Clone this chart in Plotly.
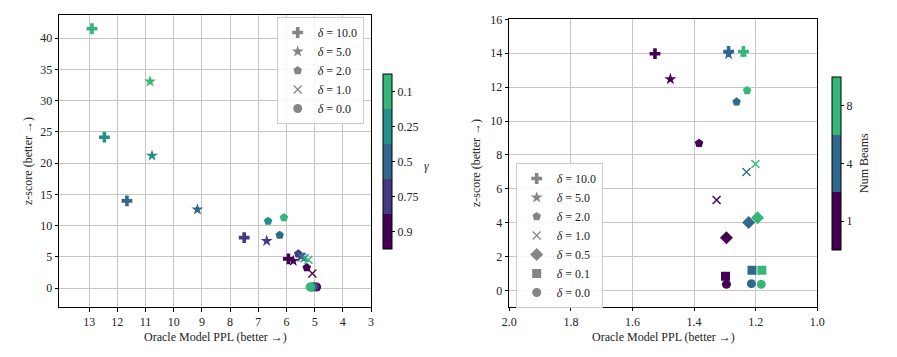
import plotly.graph_objects as go

W, H = 897, 357

# ---------------- Left panel data (gamma sweep) ----------------
gamma_labels = ["0.1", "0.25", "0.5", "0.75", "0.9"]
gamma_levels = [4, 3, 2, 1, 0]  # position in the discrete colour scale

left_deltas = ["10.0", "5.0", "2.0", "1.0", "0.0"]
left_ppl = {
    "10.0": [12.90, 12.46, 11.66, 7.50, 5.93],
    "5.0": [10.84, 10.77, 9.16, 6.70, 5.76],
    "2.0": [6.09, 6.65, 6.24, 5.58, 5.28],
    "1.0": [5.22, 5.36, 5.46, 5.50, 5.08],
    "0.0": [5.16, 5.12, 5.08, 5.00, 4.93],
}
left_z = {
    "10.0": [41.5, 24.16, 13.97, 8.10, 4.69],
    "5.0": [33.07, 21.2, 12.59, 7.57, 4.37],
    "2.0": [11.3, 10.72, 8.48, 5.50, 3.30],
    "1.0": [4.55, 4.80, 4.95, 5.05, 2.35],
    "0.0": [0.2, 0.2, 0.2, 0.25, 0.2],
}

# ---------------- Right panel data (beam sweep) ----------------
beam_labels = ["1", "4", "8"]
beam_levels = [0, 1, 2]

right_deltas = ["10.0", "5.0", "2.0", "1.0", "0.5", "0.1", "0.0"]
right_ppl = {
    "10.0": [1.527, 1.288, 1.240],
    "5.0": [1.477, 1.288, 1.240],
    "2.0": [1.384, 1.262, 1.228],
    "1.0": [1.327, 1.230, 1.201],
    "0.5": [1.295, 1.223, 1.194],
    "0.1": [1.298, 1.212, 1.180],
    "0.0": [1.295, 1.214, 1.182],
}
right_z = {
    "10.0": [13.97, 14.10, 14.10],
    "5.0": [12.47, 13.95, 14.05],
    "2.0": [8.69, 11.13, 11.80],
    "1.0": [5.34, 7.00, 7.47],
    "0.5": [3.11, 4.02, 4.30],
    "0.1": [0.85, 1.20, 1.20],
    "0.0": [0.37, 0.41, 0.37],
}

symbols = {
    "10.0": "cross", "5.0": "star", "2.0": "pentagon", "1.0": "x-thin-open",
    "0.5": "diamond", "0.1": "square", "0.0": "circle",
}
sizes = {
    "10.0": 9, "5.0": 9, "2.0": 9, "1.0": 8,
    "0.5": 10, "0.1": 9, "0.0": 9,
}

viridis5 = ["#440154", "#443983", "#31688e", "#21918c", "#35b779"]
viridis3 = ["#440154", "#31688e", "#35b779"]


def discrete_scale(colors):
    n = len(colors)
    scale = []
    for i, c in enumerate(colors):
        scale.append([i / n, c])
        scale.append([(i + 1) / n, c])
    return scale


FONT = "Liberation Serif"
fig = go.Figure()


def add_series(deltas, ppl, z, levels, xa, ya, cax):
    # draw from dark to light so the light markers sit on top
    order = sorted(range(len(levels)), key=lambda i: levels[i])
    for d in deltas:
        xs = [ppl[d][i] for i in order]
        ys = [z[d][i] for i in order]
        cs = [levels[i] for i in order]
        sym = symbols[d]
        if sym == "x-thin-open":
            marker = dict(symbol=sym, size=sizes[d], color=cs, coloraxis=cax,
                          line=dict(width=1.4))
        else:
            marker = dict(symbol=sym, size=sizes[d], color=cs, coloraxis=cax,
                          line=dict(width=0))
        fig.add_trace(go.Scatter(x=xs, y=ys, mode="markers", marker=marker,
                                 xaxis=xa, yaxis=ya, showlegend=False,
                                 hoverinfo="skip"))


add_series(left_deltas, left_ppl, left_z, gamma_levels, "x", "y", "coloraxis")
add_series(right_deltas, right_ppl, right_z, beam_levels, "x2", "y2", "coloraxis2")

GRAY = "#858585"


def legend_entries(deltas, legend_name, xa, ya):
    for d in deltas:
        sym = symbols[d]
        if sym == "x-thin-open":
            marker = dict(symbol=sym, size=sizes[d], color=GRAY, line=dict(width=1.2))
        else:
            marker = dict(symbol=sym, size=sizes[d], color=GRAY, line=dict(width=0))
        fig.add_trace(go.Scatter(x=[None], y=[None], mode="markers", marker=marker,
                                 name="<i>δ</i> = " + d, legend=legend_name,
                                 xaxis=xa, yaxis=ya, showlegend=True))


legend_entries(left_deltas, "legend", "x", "y")
legend_entries(right_deltas, "legend2", "x2", "y2")

axis_common = dict(
    showline=True, mirror=True, linecolor="black", linewidth=1.2,
    ticks="outside", ticklen=3.5, tickcolor="black", tickwidth=1,
    showgrid=True, gridcolor="#c6c6c6", gridwidth=1.2, zeroline=False,
    tickfont=dict(family=FONT, size=12, color="#222"),
    automargin=False,
)

fig.update_layout(
    width=W, height=H,
    margin=dict(l=0, r=0, t=0, b=0),
    paper_bgcolor="white", plot_bgcolor="white",
    font=dict(family=FONT, size=12, color="#222"),
    xaxis=dict(domain=[59.3 / W, 371 / W], range=[14.06, 3],
               tickvals=list(range(3, 14)), **axis_common),
    yaxis=dict(domain=[1 - 307 / H, 1 - 15 / H], range=[-3.0, 43.7],
               tickvals=list(range(0, 45, 5)), **axis_common),
    xaxis2=dict(domain=[509.3 / W, 817.3 / W], range=[2.0, 1.0],
                tickvals=[2.0, 1.8, 1.6, 1.4, 1.2, 1.0], tickformat=".1f",
                anchor="y2", **axis_common),
    yaxis2=dict(domain=[1 - 306.7 / H, 1 - 19.3 / H], range=[-0.95, 16],
                tickvals=list(range(0, 17, 2)), anchor="x2", **axis_common),
    coloraxis=dict(
        colorscale=discrete_scale(viridis5), cmin=-0.5, cmax=4.5,
        colorbar=dict(
            x=382.7 / W, xanchor="left", xpad=0,
            y=1 - 161.5 / H, yanchor="middle", ypad=0,
            len=175 / H, lenmode="fraction", thickness=9,
            outlinewidth=1, outlinecolor="black",
            ticks="outside", ticklen=3, tickcolor="black",
            tickvals=gamma_levels, ticktext=gamma_labels,
            tickfont=dict(family=FONT, size=12, color="#222"),
        ),
    ),
    coloraxis2=dict(
        colorscale=discrete_scale(viridis3), cmin=-0.5, cmax=2.5,
        colorbar=dict(
            x=832.3 / W, xanchor="left", xpad=0,
            y=1 - 163.6 / H, yanchor="middle", ypad=0,
            len=172.7 / H, lenmode="fraction", thickness=9,
            outlinewidth=1, outlinecolor="black",
            ticks="outside", ticklen=3, tickcolor="black",
            tickvals=beam_levels, ticktext=beam_labels,
            tickfont=dict(family=FONT, size=12, color="#222"),
        ),
    ),
    legend=dict(
        x=276.7 / W, y=1 - 17 / H, xanchor="left", yanchor="top",
        bordercolor="#cccccc", borderwidth=1, bgcolor="rgba(255,255,255,0.85)",
        font=dict(family=FONT, size=12, color="#222"), tracegroupgap=0,
        itemsizing="trace",
    ),
    legend2=dict(
        x=515.7 / W, y=1 - 163 / H, xanchor="left", yanchor="top",
        bordercolor="#cccccc", borderwidth=1, bgcolor="rgba(255,255,255,0.85)",
        font=dict(family=FONT, size=12, color="#222"), tracegroupgap=0,
        itemsizing="trace",
    ),
)

annotations = [
    dict(text="Oracle Model PPL (better →)", x=215 / W, y=1 - 337 / H),
    dict(text="Oracle Model PPL (better →)", x=663 / W, y=1 - 337 / H),
    dict(text="z-score (better →)", x=28 / W, y=1 - 161 / H, textangle=-90),
    dict(text="z-score (better →)", x=476 / W, y=1 - 163 / H, textangle=-90),
    dict(text="<i>γ</i>", x=426 / W, y=1 - 166 / H),
    dict(text="Num Beams", x=864 / W, y=1 - 163 / H, textangle=-90),
]
for a in annotations:
    fig.add_annotation(xref="paper", yref="paper", showarrow=False,
                       xanchor="center", yanchor="middle",
                       font=dict(family=FONT, size=12, color="#222"), **a)

fig.write_html("out.html", config={"displayModeBar": False},
               post_script="document.body.style.margin='0px';document.body.style.overflow='hidden';")
